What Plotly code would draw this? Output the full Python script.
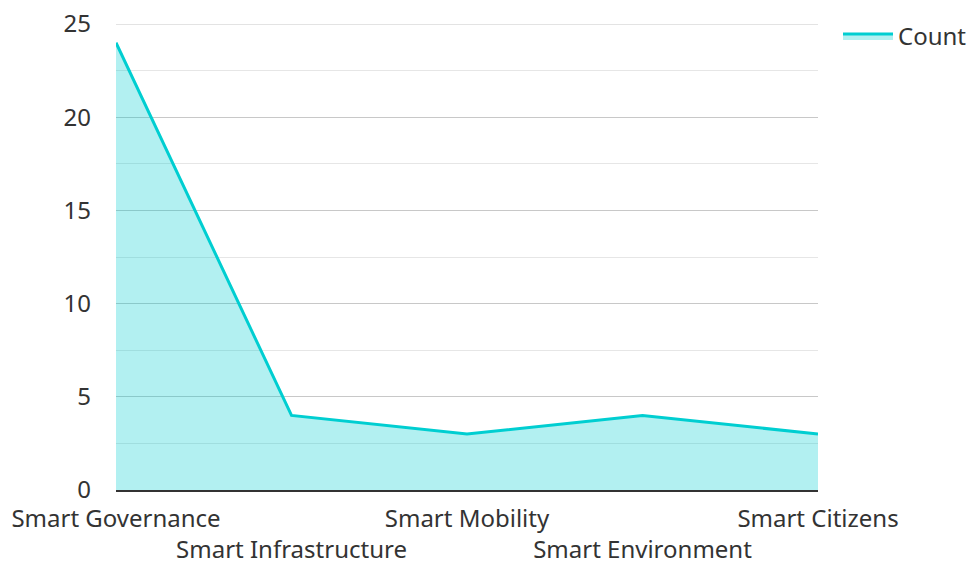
import plotly.graph_objects as go

categories = ["Smart Governance", "Smart Infrastructure", "Smart Mobility", "Smart Environment", "Smart Citizens"]
counts = [24, 4, 3, 4, 3]
series_name = "Count"
y_ticks = [0, 5, 10, 15, 20, 25]
y_max = 25

tick_text = [c if i % 2 == 0 else "<br>" + c for i, c in enumerate(categories)]

fig = go.Figure()
fig.add_trace(go.Scatter(
    x=categories, y=counts, name=series_name, mode="lines",
    line=dict(color="#00CED1", width=3),
    fill="tozeroy", fillcolor="rgba(0,206,209,0.3)",
))

# top gridline (plotly drops gridlines exactly at the range end)
fig.add_shape(type="line", xref="paper", x0=0, x1=1, yref="y", y0=y_max, y1=y_max,
              line=dict(color="#c8c8c8", width=1), layer="below")

fig.update_layout(
    width=968, height=554,
    margin=dict(l=108, r=158, t=16, b=72, autoexpand=False),
    paper_bgcolor="white", plot_bgcolor="white",
    font=dict(family="Noto Sans", size=24, color="#333333"),
    showlegend=True,
    legend=dict(x=1.0285, y=1.0215, xanchor="left", yanchor="top", font=dict(size=24),
                itemwidth=50, bgcolor="rgba(0,0,0,0)"),
)
fig.update_xaxes(
    type="category", range=[0, 4], tickmode="array",
    tickvals=categories, ticktext=tick_text,
    showgrid=False, showline=True, linecolor="#333333", linewidth=2,
    ticks="", tickangle=0, zeroline=False, automargin=False,
    ticklabelstandoff=6,
)
fig.update_yaxes(
    range=[0, y_max], tickmode="array", tickvals=y_ticks,
    showgrid=True, gridcolor="#c8c8c8", gridwidth=1,
    minor=dict(dtick=2.5, showgrid=True, gridcolor="#e6e6e6", gridwidth=1),
    zeroline=False, showline=False, ticks="", ticklabelstandoff=24,
    automargin=False, ticklabeloverflow="allow",
)

fig.write_html("out.html")
